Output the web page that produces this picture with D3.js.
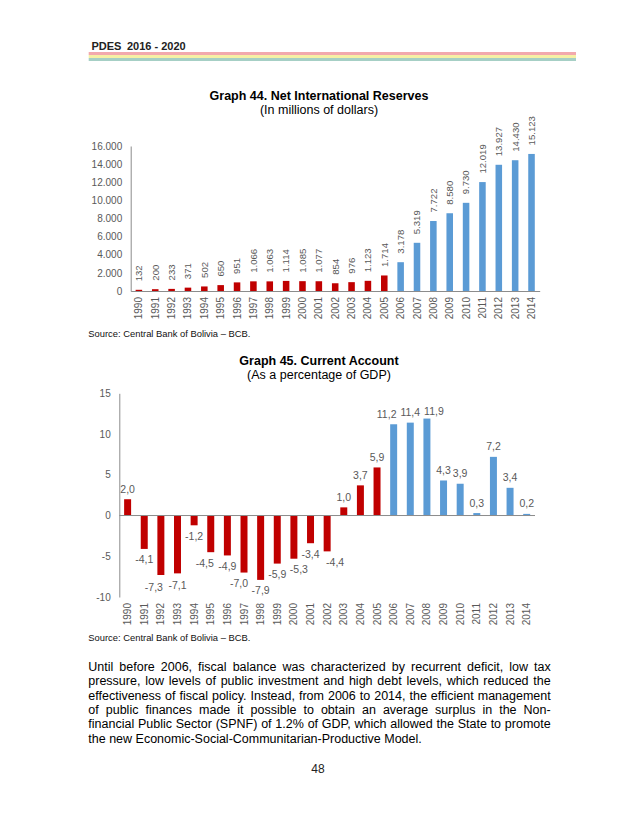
<!DOCTYPE html>
<html>
<head>
<meta charset="utf-8">
<script src="https://cdn.jsdelivr.net/npm/d3@7"></script>
<style>
  body { margin: 0; background: #fff; }
  svg { display: block; font-family: "Liberation Sans", Arial, Helvetica, sans-serif; }
</style>
</head>
<body>
<div id="page"></div>
<script>
// ---- data ----
const years = ["1990", "1991", "1992", "1993", "1994", "1995", "1996", "1997", "1998", "1999",
               "2000", "2001", "2002", "2003", "2004", "2005", "2006", "2007", "2008", "2009",
               "2010", "2011", "2012", "2013", "2014"];

// Graph 44: net international reserves (millions of USD)
const reserves = [132, 200, 233, 371, 502, 650, 951, 1066, 1063, 1114,
                  1085, 1077, 854, 976, 1123, 1714, 3178, 5319, 7722, 8580,
                  9730, 12019, 13927, 14430, 15123];
const reservesTicks = [0, 2000, 4000, 6000, 8000, 10000, 12000, 14000, 16000];

// Graph 45: current account (% of GDP)
const currentAccount = [2.0, -4.1, -7.3, -7.1, -1.2, -4.5, -4.9, -7.0, -7.9, -5.9,
                        -5.3, -3.4, -4.4, 1.0, 3.7, 5.9, 11.2, 11.4, 11.9, 4.3,
                        3.9, 0.3, 7.2, 3.4, 0.2];
const accountTicks = [-10, -5, 0, 5, 10, 15];

const paragraphLines = [
    "Until before 2006, fiscal balance was characterized by recurrent deficit, low tax",
    "pressure, low levels of public investment and high debt levels, which reduced the",
    "effectiveness of fiscal policy. Instead, from 2006 to 2014, the efficient management",
    "of public finances made it possible to obtain an average surplus in the Non-",
    "financial Public Sector (SPNF) of 1.2% of GDP, which allowed the State to promote",
    "the new Economic-Social-Communitarian-Productive Model."
];

// ---- setup ----
const W = 638, H = 826;
const RED = "#c00000", BLUE = "#5b9bd5", GREY = "#595959", AXIS = "#8c8c8c";
const barColor = y => (+y < 2006 ? RED : BLUE);

const locale = d3.formatLocale({ decimal: ",", thousands: ".", grouping: [3], currency: ["", ""], minus: "-" });
const fmtInt = locale.format(",d");
const fmtOne = locale.format(".1f");

const svg = d3.select("#page").append("svg")
    .attr("width", W)
    .attr("height", H);

svg.append("rect").attr("width", W).attr("height", H).attr("fill", "#fff");

// ---- page header ----
const header = svg.append("g")
    .attr("font-family", "'Liberation Sans Narrow', 'Arial Narrow', sans-serif")
    .attr("font-weight", "bold")
    .attr("font-size", 11)
    .attr("fill", "#222");
header.append("text").attr("x", 91.5).attr("y", 49.5).text("PDES");
header.append("text").attr("x", 127).attr("y", 49.5).text("2016 - 2020");

["#f2a9ad", "#f6f0a4", "#a6cfc5"].forEach((c, i) => {
    svg.append("rect")
        .attr("x", 88.7)
        .attr("y", 52 + i * 3)
        .attr("width", 576 - 88.7)
        .attr("height", 3)
        .attr("fill", c);
});

// ---- shared title helper ----
function chartTitle(title, subtitle, y) {
    svg.append("text")
        .attr("x", 319).attr("y", y)
        .attr("text-anchor", "middle")
        .attr("font-size", 12.5)
        .attr("font-weight", "bold")
        .attr("fill", "#000")
        .text(title);
    svg.append("text")
        .attr("x", 319).attr("y", y + 13.5)
        .attr("text-anchor", "middle")
        .attr("font-size", 12.5)
        .attr("fill", "#000")
        .text(subtitle);
}

function styleAxis(g) {
    g.select(".domain").attr("stroke", AXIS).attr("stroke-width", 1);
    g.selectAll(".tick line").remove();
    g.selectAll("text").attr("fill", GREY).attr("font-size", 10).attr("font-family", null);
}

function source(y) {
    svg.append("text")
        .attr("x", 88.3).attr("y", y)
        .attr("font-size", 9.4)
        .attr("fill", "#111")
        .text("Source: Central Bank of Bolivia \u2013 BCB.");
}

// ---- Graph 44 ----
chartTitle("Graph 44. Net International Reserves", "(In millions of dollars)", 100);

const x44 = d3.scaleBand().domain(years).range([130.7, 539.7]).paddingInner(0.6).paddingOuter(0.3);
const y44 = d3.scaleLinear().domain([0, 16000]).range([291, 146]);

svg.append("g")
    .attr("transform", "translate(130.7,0)")
    .call(d3.axisLeft(y44).tickValues(reservesTicks).tickSize(0).tickSizeOuter(0).tickPadding(8.5).tickFormat(fmtInt))
    .call(styleAxis)
    .attr("font-family", null);

svg.selectAll(".bar44")
    .data(years)
    .enter()
    .append("rect")
    .attr("class", "bar44")
    .attr("x", d => x44(d))
    .attr("width", x44.bandwidth())
    .attr("y", (d, i) => y44(reserves[i]))
    .attr("height", (d, i) => y44(0) - y44(reserves[i]))
    .attr("fill", barColor);

const xAxis44 = svg.append("g")
    .attr("transform", "translate(0,291)")
    .call(d3.axisBottom(x44).tickSize(0).tickSizeOuter(0))
    .call(styleAxis);
xAxis44.selectAll("text")
    .attr("transform", "rotate(-90)")
    .attr("text-anchor", "end")
    .attr("x", -6)
    .attr("y", 0)
    .attr("dy", "0.35em");

// rotated value labels
svg.selectAll(".lab44")
    .data(years)
    .enter()
    .append("text")
    .attr("class", "lab44")
    .attr("transform", (d, i) => `translate(${x44(d) + x44.bandwidth() / 2},${y44(reserves[i]) - 8.5}) rotate(-90)`)
    .attr("dy", "0.35em")
    .attr("font-size", 9.6)
    .attr("fill", GREY)
    .text((d, i) => fmtInt(reserves[i]));

source(336.7);

// ---- Graph 45 ----
chartTitle("Graph 45. Current Account", "(As a percentage of GDP)", 365);

const x45 = d3.scaleBand().domain(years).range([119.3, 535]).paddingInner(0.58).paddingOuter(0.29);
const y45 = d3.scaleLinear().domain([-10, 15]).range([597, 393.3]);

svg.append("g")
    .attr("transform", "translate(119.3,0)")
    .call(d3.axisLeft(y45).tickValues(accountTicks).tickSize(0).tickSizeOuter(0).tickPadding(8.6).tickFormat(locale.format("d")))
    .call(styleAxis);

svg.selectAll(".bar45")
    .data(years)
    .enter()
    .append("rect")
    .attr("class", "bar45")
    .attr("x", d => x45(d))
    .attr("width", x45.bandwidth())
    .attr("y", (d, i) => y45(Math.max(0, currentAccount[i])))
    .attr("height", (d, i) => Math.abs(y45(currentAccount[i]) - y45(0)))
    .attr("fill", barColor);

// zero line
svg.append("line")
    .attr("x1", 119.3).attr("x2", 535)
    .attr("y1", y45(0)).attr("y2", y45(0))
    .attr("stroke", AXIS);

// year labels below the plot
const xAxis45 = svg.append("g")
    .attr("transform", "translate(0,597)")
    .call(d3.axisBottom(x45).tickSize(0).tickSizeOuter(0))
    .call(styleAxis);
xAxis45.select(".domain").remove();
xAxis45.selectAll("text")
    .attr("transform", "rotate(-90)")
    .attr("text-anchor", "end")
    .attr("x", -6)
    .attr("y", 0)
    .attr("dy", "0.35em");

// a few labels were nudged by hand in the original
const nudge45 = { "1992": [-7, 1], "1993": [0, 1.5], "1995": [-6, 0], "1997": [-5, 0], "2000": [5, 0],
                  "2002": [8, 0], "2006": [-7, 0], "2008": [7, 3] };

svg.selectAll(".lab45")
    .data(years)
    .enter()
    .append("text")
    .attr("class", "lab45")
    .attr("x", (d, i) => x45(d) + x45.bandwidth() / 2 + (nudge45[d] ? nudge45[d][0] : 0))
    .attr("y", (d, i) => {
        const v = currentAccount[i];
        const base = v >= 0 ? y45(v) - 6.5 : y45(v) + 14.5;
        return base + (nudge45[d] ? nudge45[d][1] : 0);
    })
    .attr("text-anchor", "middle")
    .attr("font-size", 10.5)
    .attr("fill", GREY)
    .text((d, i) => fmtOne(currentAccount[i]));

source(640.7);

// ---- body paragraph (justified line by line) ----
const textLeft = 88.3, textRight = 550.7;
const para = svg.append("g")
    .attr("font-size", 12.5)
    .attr("fill", "#000");

paragraphLines.forEach((line, i) => {
    const t = para.append("text")
        .attr("x", textLeft)
        .attr("y", 670.7 + i * 14.4)
        .text(line);
    if (i < paragraphLines.length - 1) {
        const natural = t.node().getComputedTextLength();
        const gaps = line.split(" ").length - 1;
        t.style("word-spacing", ((textRight - textLeft - natural) / gaps) + "px");
    }
});

// page number
svg.append("text")
    .attr("x", 318).attr("y", 773.3)
    .attr("text-anchor", "middle")
    .attr("font-size", 12)
    .attr("fill", "#222")
    .text("48");
</script>
</body>
</html>
